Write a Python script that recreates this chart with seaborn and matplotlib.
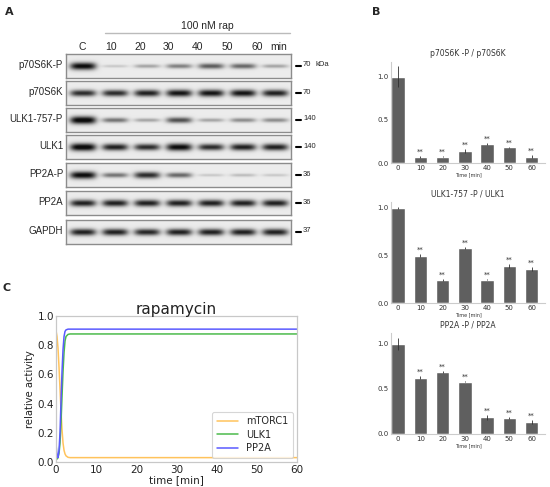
import numpy as np
import pandas as pd
import seaborn as sns
import matplotlib.pyplot as plt

W, H = 550, 487

# ---- panel A: western blot, band darkness per lane (C, 10 ... 60 min)
blot_rows = ["p70S6K-P", "p70S6K", "ULK1-757-P", "ULK1", "PP2A-P", "PP2A", "GAPDH"]
blot_kda = ["70", "70", "140", "140", "36", "36", "37"]
lane_labels = ["C", "10", "20", "30", "40", "50", "60", "min"]
band_p70s6k_p = [0.95, 0.15, 0.3, 0.45, 0.6, 0.55, 0.3]
band_p70s6k = [0.8, 0.8, 0.85, 0.9, 0.9, 0.9, 0.85]
band_ulk1_p = [1.0, 0.5, 0.3, 0.65, 0.3, 0.4, 0.4]
band_ulk1 = [1.0, 0.85, 0.8, 0.95, 0.8, 0.85, 0.85]
band_pp2a_p = [0.95, 0.5, 0.8, 0.55, 0.15, 0.2, 0.15]
band_pp2a = [0.85, 0.85, 0.85, 0.85, 0.85, 0.85, 0.85]
band_gapdh = [0.85, 0.85, 0.82, 0.85, 0.85, 0.85, 0.85]
blot_bands = [band_p70s6k_p, band_p70s6k, band_ulk1_p, band_ulk1,
              band_pp2a_p, band_pp2a, band_gapdh]

# ---- panel B: quantification
time_labels = ["0", "10", "20", "30", "40", "50", "60"]
s6k_ratio = [1.0, 0.07, 0.075, 0.14, 0.22, 0.18, 0.075]
s6k_err = [0.12, 0.01, 0.01, 0.02, 0.015, 0.01, 0.015]
ulk1_ratio = [1.0, 0.495, 0.24, 0.575, 0.245, 0.385, 0.355]
ulk1_err = [0.01, 0.015, 0.01, 0.01, 0.008, 0.02, 0.02]
pp2a_ratio = [1.0, 0.625, 0.685, 0.58, 0.185, 0.18, 0.13]
pp2a_err = [0.07, 0.015, 0.01, 0.005, 0.03, 0.01, 0.02]

# ---- panel C: model simulation
sim_time = [0, 0.25, 0.5, 0.75, 1.0, 1.25, 1.5, 1.75, 2.0, 2.25, 2.5, 3.0, 3.5, 4.0,
            5, 10, 20, 40, 60]
sim_mtorc1 = [0.9, 0.86, 0.78, 0.65, 0.5, 0.35, 0.22, 0.13, 0.08, 0.055, 0.042, 0.032,
              0.03, 0.03, 0.03, 0.03, 0.03, 0.03, 0.03]
sim_ulk1 = [0.02, 0.02, 0.03, 0.06, 0.13, 0.27, 0.45, 0.62, 0.75, 0.83, 0.86, 0.874,
            0.877, 0.877, 0.877, 0.877, 0.877, 0.877, 0.877]
sim_pp2a = [0.12, 0.05, 0.03, 0.08, 0.2, 0.42, 0.62, 0.77, 0.86, 0.895, 0.905, 0.91,
            0.91, 0.91, 0.91, 0.91, 0.91, 0.91, 0.91]


def px_rect(left, top, right, bottom):
    return [left / W, 1 - bottom / H, (right - left) / W, (bottom - top) / H]


def fx(x):
    return x / W


def fy(y):
    return 1 - y / H


sns.set_theme(style="white")
plt.rcParams['font.family'] = ['DejaVu Sans']
fig = plt.figure(figsize=(W / 100, H / 100), dpi=100)

# ---------------- A
fig.text(fx(9), fy(12), "A", fontsize=8, fontweight="bold", ha="center", va="center")
blot_font = ['Liberation Sans', 'DejaVu Sans']
box_l, box_r = 66, 291
row_tops = [54, 81, 108, 135, 163, 191, 220]
row_h = 24
lane_x = [17, 49, 81, 113, 145, 177, 209]
label_x = [82, 111, 140, 168, 198, 227, 257, 279]

for x, lab in zip(label_x, lane_labels):
    fig.text(fx(x), fy(47), lab, fontsize=7.5, ha="center", va="center", family=blot_font)
fig.text(fx(207), fy(26), "100 nM rap", fontsize=7.5, ha="center", va="center", family=blot_font)
fig.add_artist(plt.Line2D([fx(105), fx(290)], [fy(33), fy(33)], color="#bbbbbb", lw=1))

w = box_r - box_l
sc = 3
xs = np.arange(w * sc) / sc
ys = np.arange(row_h * sc) / sc
X, Y = np.meshgrid(xs, ys)
for top, name, kda, levels in zip(row_tops, blot_rows, blot_kda, blot_bands):
    ax = fig.add_axes(px_rect(box_l, top, box_r, top + row_h))
    img = np.full(X.shape, 0.08)
    for cx, lv in zip(lane_x, levels):
        prof_x = np.exp(-np.abs((X - cx) / 13) ** 4)
        prof_y = np.exp(-((Y - row_h / 2) / (1.0 + 2.8 * lv)) ** 2)
        img += lv * prof_x * prof_y
    ax.imshow(np.clip(img, 0, 1), cmap="gray_r", vmin=0, vmax=1.05,
              extent=(0, w, row_h, 0), aspect="auto", interpolation="bilinear")
    ax.set_xticks([])
    ax.set_yticks([])
    for s in ax.spines.values():
        s.set_color("#8c8c8c")
        s.set_linewidth(1)
    cy = top + row_h / 2
    fig.text(fx(63), fy(cy - 1), name, fontsize=7, ha="right", va="center", family=blot_font)
    fig.add_artist(plt.Line2D([fx(296), fx(301)], [fy(cy), fy(cy)], color="black", lw=1.5))
    fig.text(fx(303), fy(cy - 1), kda, fontsize=5.5, ha="left", va="center", family=blot_font)
    if name == "p70S6K-P":
        fig.text(fx(316), fy(cy - 1), "kDa", fontsize=5.5, ha="left", va="center", family=blot_font)

# ---------------- B
fig.text(fx(376), fy(12), "B", fontsize=8, fontweight="bold", ha="center", va="center")
bar_panels = [
    ("p70S6K -P / p70S6K", s6k_ratio, s6k_err, 62, 163, 1.17),
    ("ULK1-757 -P / ULK1", ulk1_ratio, ulk1_err, 202, 303, 1.06),
    ("PP2A -P / PP2A", pp2a_ratio, pp2a_err, 333, 434, 1.12),
]
for title, vals, errs, top, bottom, ymax in bar_panels:
    ax = fig.add_axes(px_rect(391, top, 545, bottom))
    df = pd.DataFrame({"time": time_labels, "ratio": vals})
    sns.barplot(data=df, x="time", y="ratio", color="#5f5f5f", saturation=1,
                width=0.6, errorbar=None, ax=ax)
    pos = np.arange(len(vals))
    ax.errorbar(pos, vals, yerr=errs, fmt="none", ecolor="#303030", elinewidth=0.6)
    for i in range(1, len(vals)):
        ax.text(pos[i], vals[i] + errs[i] + 0.015, "**", ha="center", va="bottom",
                fontsize=5, color="#333333")
    ax.set_xlim(-0.32, 6.6)
    ax.set_ylim(0, ymax)
    ax.set_yticks([0, 0.5, 1.0])
    ax.set_yticklabels(["0.0", "0.5", "1.0"])
    ax.tick_params(labelsize=5, pad=1.5, length=0, colors="#333333")
    ax.set_xlabel("Time [min]", fontsize=3.5, labelpad=1, color="#333333")
    ax.set_ylabel("")
    ax.set_title(title, fontsize=5.5, pad=4, color="#333333")
    for side in ["top", "right"]:
        ax.spines[side].set_visible(False)
    for side in ["left", "bottom"]:
        ax.spines[side].set_color("#cccccc")
        ax.spines[side].set_linewidth(0.8)

# ---------------- C
fig.text(fx(7), fy(288), "C", fontsize=8, fontweight="bold", ha="center", va="center")
ax = fig.add_axes(px_rect(56, 316, 297, 462))
sim = pd.DataFrame({"time": sim_time * 3,
                    "activity": sim_mtorc1 + sim_ulk1 + sim_pp2a,
                    "species": ["mTORC1"] * len(sim_time) + ["ULK1"] * len(sim_time)
                    + ["PP2A"] * len(sim_time)})
sns.lineplot(data=sim, x="time", y="activity", hue="species",
             palette={"mTORC1": "#ffc35c", "ULK1": "#4cbb4c", "PP2A": "#5a5aff"},
             lw=1.1, ax=ax)
ax.set_xlim(0, 60)
ax.set_ylim(0, 1)
ax.set_xticks([0, 10, 20, 30, 40, 50, 60])
ax.set_yticks([0, 0.2, 0.4, 0.6, 0.8, 1.0])
ax.set_yticklabels(["0.0", "0.2", "0.4", "0.6", "0.8", "1.0"])
ax.tick_params(axis="y", labelsize=7.5, pad=1.5, length=0, colors="#222222")
ax.tick_params(axis="x", labelsize=7.5, pad=2, length=0, colors="#222222")
ax.set_xlabel("time [min]", fontsize=7.5, labelpad=0, color="#222222")
ax.set_ylabel("relative activity", fontsize=7.2, labelpad=2, color="#222222")
ax.set_title("rapamycin", fontsize=11, pad=1.5, color="#222222")
for s in ax.spines.values():
    s.set_color("#c8c8c8")
    s.set_linewidth(0.9)
leg = ax.legend(loc="lower right", fontsize=7, frameon=True, handlelength=2.2,
                borderaxespad=0.4, labelspacing=0.35, borderpad=0.5)
leg.get_frame().set_edgecolor("#cccccc")
leg.get_frame().set_linewidth(0.8)

fig.savefig("out.png", dpi=100)
